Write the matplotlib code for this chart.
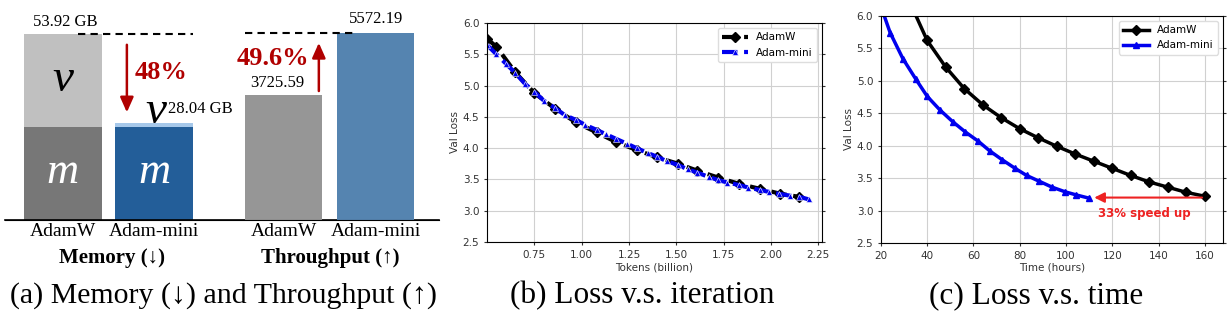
#! /usr/bin/env python3

import matplotlib
matplotlib.use("Agg")
from matplotlib import pyplot as plt
from matplotlib.transforms import blended_transform_factory

SERIF = ["Liberation Serif", "DejaVu Serif"]

# panel (a): memory (GB) and throughput
mem_labels = ["AdamW", "Adam-mini"]
mem_m = [26.96, 26.96]
mem_v = [26.96, 1.08]
mem_total = [53.92, 28.04]
thr_labels = ["AdamW", "Adam-mini"]
thr_values = [3725.59, 5572.19]

# panel (b): val loss vs tokens (billion)
b_adamw_x = [0.50, 0.55, 0.65, 0.75, 0.86, 0.97, 1.08, 1.18, 1.29, 1.40, 1.51,
             1.61, 1.72, 1.83, 1.94, 2.05, 2.15]
b_adamw_y = [5.75, 5.62, 5.21, 4.88, 4.63, 4.41, 4.25, 4.10, 3.97, 3.85, 3.75,
             3.64, 3.53, 3.43, 3.35, 3.27, 3.22]
b_mini_x = [0.50, 0.55, 0.60, 0.65, 0.70, 0.75, 0.80, 0.86, 0.91, 0.97, 1.02,
            1.08, 1.13, 1.18, 1.24, 1.29, 1.35, 1.40, 1.45, 1.51, 1.56, 1.61,
            1.67, 1.72, 1.77, 1.83, 1.88, 1.94, 1.99, 2.04, 2.10, 2.15, 2.20]
b_mini_y = [5.65, 5.50, 5.35, 5.20, 5.03, 4.90, 4.76, 4.64, 4.53, 4.45, 4.37,
            4.29, 4.22, 4.15, 4.07, 4.00, 3.92, 3.86, 3.79, 3.73, 3.66, 3.61,
            3.54, 3.49, 3.45, 3.41, 3.37, 3.33, 3.30, 3.27, 3.24, 3.22, 3.18]

# panel (c): val loss vs time (hours)
c_adamw_x = [32, 40, 48, 56, 64, 72, 80, 88, 96, 104, 112, 120, 128, 136, 144, 152, 160]
c_adamw_y = [6.25, 5.62, 5.21, 4.88, 4.63, 4.43, 4.26, 4.12, 3.99, 3.87, 3.76,
             3.65, 3.54, 3.44, 3.36, 3.28, 3.22]
c_mini_x = [18.5, 24, 29.5, 35, 40, 45.5, 51, 56.5, 62, 67, 72.5, 78, 83, 88.5,
            94, 99.5, 104.5, 110]
c_mini_y = [6.30, 5.74, 5.34, 5.03, 4.76, 4.55, 4.37, 4.21, 4.07, 3.92, 3.78,
            3.65, 3.54, 3.45, 3.36, 3.29, 3.24, 3.19]

RED = "#b00000"

fig = plt.figure(figsize=(12.32, 3.2), dpi=100)

# ---------- (a) ----------
ax = fig.add_axes([0.004, 0.3125, 0.352, 0.6875])
ax2 = ax.twinx()
mem_pos = [0.0, 1.0]
thr_pos = [2.415, 3.42]
width = 0.85
top_frac = 220 / 186

ax.bar(mem_pos[0], mem_m[0], width, color="#777777")
ax.bar(mem_pos[0], mem_v[0], width, bottom=mem_m[0], color="#c0c0c0")
ax.bar(mem_pos[1], mem_m[1], width, color="#235e99")
ax.bar(mem_pos[1], mem_v[1], width, bottom=mem_m[1], color="#a6c8ea")
ax2.bar(thr_pos[0], thr_values[0], width, color="#969696")
ax2.bar(thr_pos[1], thr_values[1], width, color="#5584b0")

ax.set_ylim(0, mem_total[0] * top_frac)
ax2.set_ylim(0, thr_values[1] * 185 / 186 * top_frac)
ax.set_xlim(-0.634, 4.11)
for a in (ax, ax2):
    for s in ("top", "left", "right"):
        a.spines[s].set_visible(False)
    a.set_yticks([])
ax.spines["bottom"].set_linewidth(1.2)
ax.set_xticks(mem_pos + thr_pos)
ax.set_xticklabels(mem_labels + thr_labels, family=SERIF, fontsize=14)
ax.tick_params(axis="x", length=0, pad=2)

ax.hlines(mem_total[0], 0.16, 1.42, colors="black", linestyles=(0, (3.5, 2.5)), lw=1.5)
ax2.hlines(thr_values[1], 1.99, 3.22, colors="black", linestyles=(0, (3.5, 2.5)), lw=1.5)

ax.annotate("", xy=(0.70, 30.4), xytext=(0.70, 51.6),
            arrowprops=dict(arrowstyle="-|>,head_width=0.4,head_length=0.9", color=RED, lw=1.8))
ax.text(0.787, 42.9, "48%", color=RED, fontsize=19, fontweight="bold", family=SERIF,
        ha="left", va="center")
ax2.annotate("", xy=(2.80, 5361), xytext=(2.80, 3760),
             arrowprops=dict(arrowstyle="-|>,head_width=0.4,head_length=0.9", color=RED, lw=1.8))
ax2.text(2.70, 4819, "49.6%", color=RED, fontsize=19, fontweight="bold", family=SERIF,
         ha="right", va="center")

ax.text(0.03, 55.2, "53.92 GB", family=SERIF, fontsize=12, ha="center", va="bottom")
ax.text(1.15, 32.3, "28.04 GB", family=SERIF, fontsize=12, ha="left", va="center")
ax2.text(2.35, 3830, "3725.59", family=SERIF, fontsize=12, ha="center", va="bottom")
ax2.text(3.43, 5740, "5572.19", family=SERIF, fontsize=12, ha="center", va="bottom")

ax.text(mem_pos[0], 40.6, "v", family=SERIF, style="italic", fontsize=34, ha="center", va="center")
ax.text(mem_pos[0], 13.9, "m", family=SERIF, style="italic", fontsize=32, color="white",
        ha="center", va="center")
ax.text(mem_pos[1], 13.9, "m", family=SERIF, style="italic", fontsize=32, color="white",
        ha="center", va="center")
ax.text(mem_pos[1] + 0.02, 31.5, "v", family=SERIF, style="italic", fontsize=34,
        ha="center", va="center")

tr = blended_transform_factory(ax.transData, ax.transAxes)
ax.text(0.537, -0.175, "Memory (\u2193)", transform=tr, family=SERIF, fontsize=15,
        fontweight="bold", ha="center", va="center")
ax.text(2.92, -0.175, "Throughput (\u2191)", transform=tr, family=SERIF, fontsize=15,
        fontweight="bold", ha="center", va="center")

# ---------- (b) ----------
axb = fig.add_axes([0.3953, 0.244, 0.272, 0.684])
axb.plot(b_adamw_x, b_adamw_y, color="black", ls="--", lw=3, marker="D", ms=5.5, label="AdamW")
axb.plot(b_mini_x, b_mini_y, color="#0000ee", ls="--", lw=3, marker="^", ms=5,
         mec="white", mew=0.4, label="Adam-mini")
axb.set_xlim(0.5, 2.27)
axb.set_ylim(2.5, 6.0)
axb.set_xticks([0.75, 1.00, 1.25, 1.50, 1.75, 2.00, 2.25])
axb.set_xlabel("Tokens (billion)", fontsize=7.5, color="#333333", labelpad=2)
axb.set_ylabel("Val Loss", fontsize=7.5, color="#333333", labelpad=2)
axb.tick_params(labelsize=7.5, colors="#333333", length=2, right=True)
axb.grid(True, color="#d0d0d0", lw=0.8)
axb.legend(loc="upper right", fontsize=7.5, handlelength=2.5, framealpha=1, edgecolor="#dddddd")

# ---------- (c) ----------
axc = fig.add_axes([0.715, 0.2406, 0.278, 0.710])
axc.plot(c_adamw_x, c_adamw_y, color="black", lw=2.5, marker="D", ms=5.5, label="AdamW")
axc.plot(c_mini_x, c_mini_y, color="#0000ee", lw=2.5, marker="^", ms=4.5, label="Adam-mini")
axc.set_xlim(20, 168)
axc.set_ylim(2.5, 6.0)
axc.set_xticks([20, 40, 60, 80, 100, 120, 140, 160])
axc.set_xlabel("Time (hours)", fontsize=7.5, color="#333333", labelpad=1)
axc.set_ylabel("Val Loss", fontsize=7.5, color="#333333", labelpad=2)
axc.tick_params(labelsize=7.5, colors="#333333", length=2, right=True)
axc.grid(True, color="#d0d0d0", lw=0.8)
axc.legend(loc="upper right", fontsize=7.5, handlelength=2.5, framealpha=1, edgecolor="#dddddd")
axc.annotate("", xy=(c_mini_x[-1] + 1, 3.2), xytext=(c_adamw_x[-1], 3.2),
             arrowprops=dict(arrowstyle="-|>,head_width=0.3,head_length=0.6", color="#ee2222", lw=1.5))
axc.text(134, 2.96, "33% speed up", color="#ee2222", fontsize=8.5, fontweight="bold",
         ha="center", va="center")

# captions
fig.text(223 / 1232, 0.075, "(a) Memory (\u2193) and Throughput (\u2191)", family=SERIF,
         fontsize=21.5, ha="center", va="center")
fig.text(642 / 1232, 0.075, "(b) Loss v.s. iteration", family=SERIF, fontsize=22.5,
         ha="center", va="center")
fig.text(1036 / 1232, 0.075, "(c) Loss v.s. time", family=SERIF, fontsize=22.5,
         ha="center", va="center")

fig.savefig("out.png", dpi=100)
